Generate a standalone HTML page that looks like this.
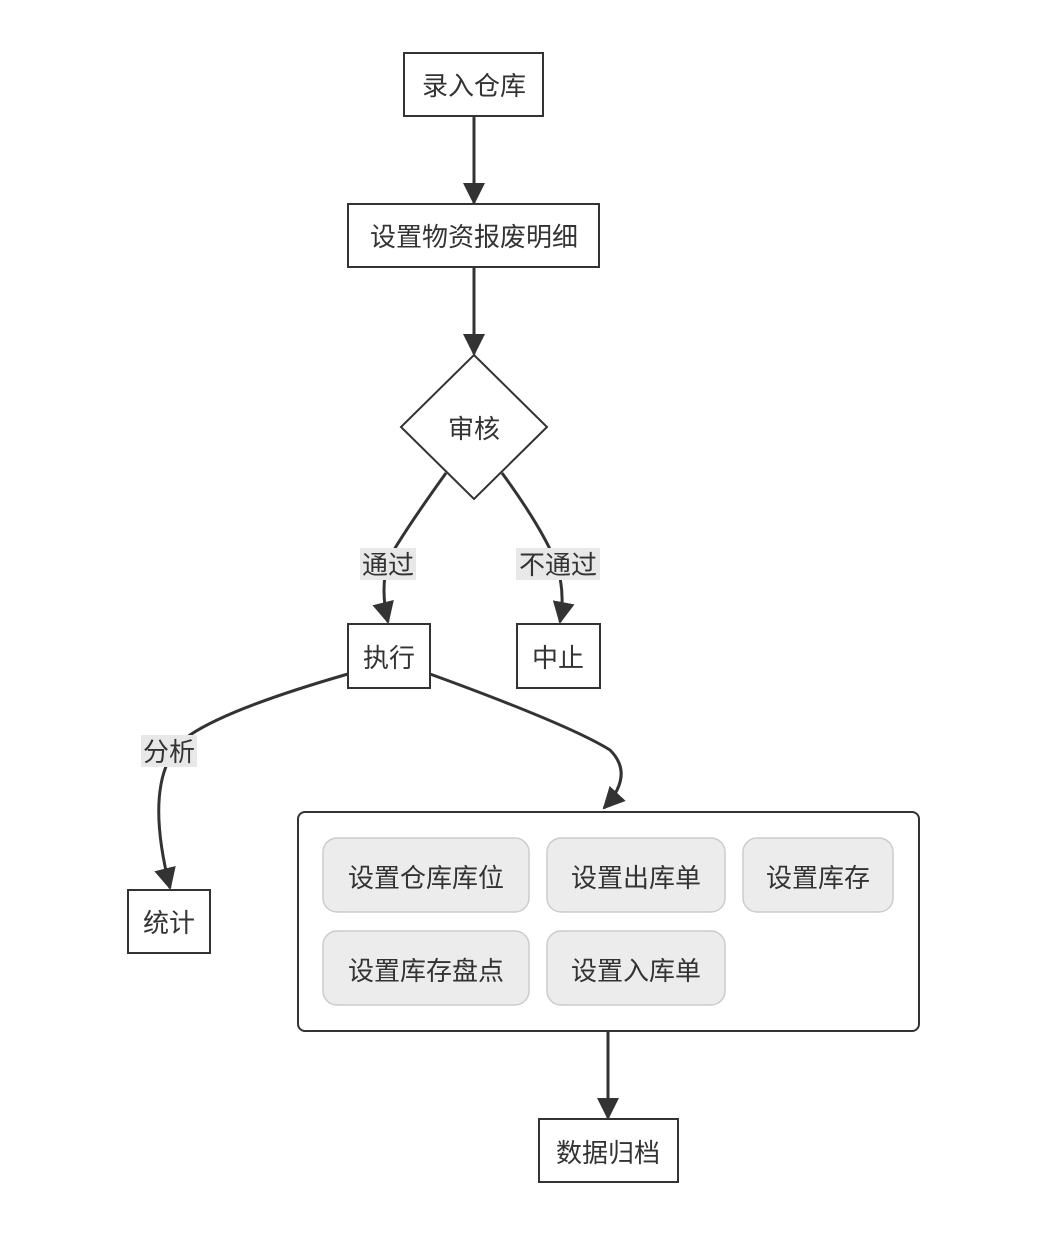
<!DOCTYPE html>
<html><head><meta charset="utf-8"><style>
html,body{margin:0;padding:0;background:#fff;}
svg text{font-family:"Liberation Sans","Noto Sans CJK SC",sans-serif;font-size:26px;fill:#333;}
</style></head><body>
<svg width="1046" height="1239" viewBox="0 0 1046 1239" xmlns="http://www.w3.org/2000/svg">
<defs><marker id="a" markerWidth="10" markerHeight="10" refX="8" refY="5" orient="auto" markerUnits="userSpaceOnUse" viewBox="0 0 10 10"><path d="M0,0 L10,5 L0,10 z" fill="#333"/></marker>
<marker id="b" markerWidth="22" markerHeight="22" refX="20" refY="11" orient="auto" markerUnits="userSpaceOnUse" viewBox="0 0 22 22"><path d="M0,0 L22,11 L0,22 z" fill="#333"/></marker></defs>
<g fill="none" stroke="#333" stroke-width="3">
<path d="M474,116 L474,203" marker-end="url(#b)"/>
<path d="M474,267 L474,354" marker-end="url(#b)"/>
<path d="M446,473 Q405,530 388,560 Q380,590 388,622" marker-end="url(#b)"/>
<path d="M502,473 Q540,525 555,560 Q566,590 560,622" marker-end="url(#b)"/>
<path d="M348,674 Q230,708 190,735 Q140,770 170,888" marker-end="url(#b)"/>
<path d="M430,674 Q570,725 610,750 Q635,775 604,808" marker-end="url(#b)"/>
<path d="M608,1031 L608,1118" marker-end="url(#b)"/>
</g>
<g fill="#fff" stroke="#333" stroke-width="2">
<rect x="404" y="53" width="139" height="63"/>
<rect x="348" y="204" width="251" height="63"/>
<polygon points="474,355 547,427 474,499 401,427"/>
<rect x="348" y="624" width="82" height="64"/>
<rect x="517" y="624" width="83" height="64"/>
<rect x="128" y="890" width="82" height="63"/>
<rect x="298" y="812" width="621" height="219" rx="7"/>
<rect x="539" y="1119" width="139" height="63"/>
</g>
<g fill="#ececec" stroke="#ccc" stroke-width="1.5">
<rect x="323" y="838" width="206" height="74" rx="14"/>
<rect x="547" y="838" width="178" height="74" rx="14"/>
<rect x="743" y="838" width="150" height="74" rx="14"/>
<rect x="323" y="931" width="206" height="74" rx="14"/>
<rect x="547" y="931" width="178" height="74" rx="14"/>
</g>
<g fill="#e8e8e8">
<rect x="360" y="548" width="56" height="32"/>
<rect x="516" y="548" width="84" height="32"/>
<rect x="141" y="735" width="56" height="32"/>
</g>
<g text-anchor="middle">
<text x="474" y="95">录入仓库</text>
<text x="474" y="246">设置物资报废明细</text>
<text x="474" y="438">审核</text>
<text x="388" y="574">通过</text>
<text x="558" y="574">不通过</text>
<text x="389" y="667">执行</text>
<text x="558" y="667">中止</text>
<text x="169" y="761">分析</text>
<text x="169" y="932">统计</text>
<text x="426" y="887">设置仓库库位</text>
<text x="636" y="887">设置出库单</text>
<text x="818" y="887">设置库存</text>
<text x="426" y="980">设置库存盘点</text>
<text x="636" y="980">设置入库单</text>
<text x="608" y="1162">数据归档</text>
</g>
</svg>
</body></html>
